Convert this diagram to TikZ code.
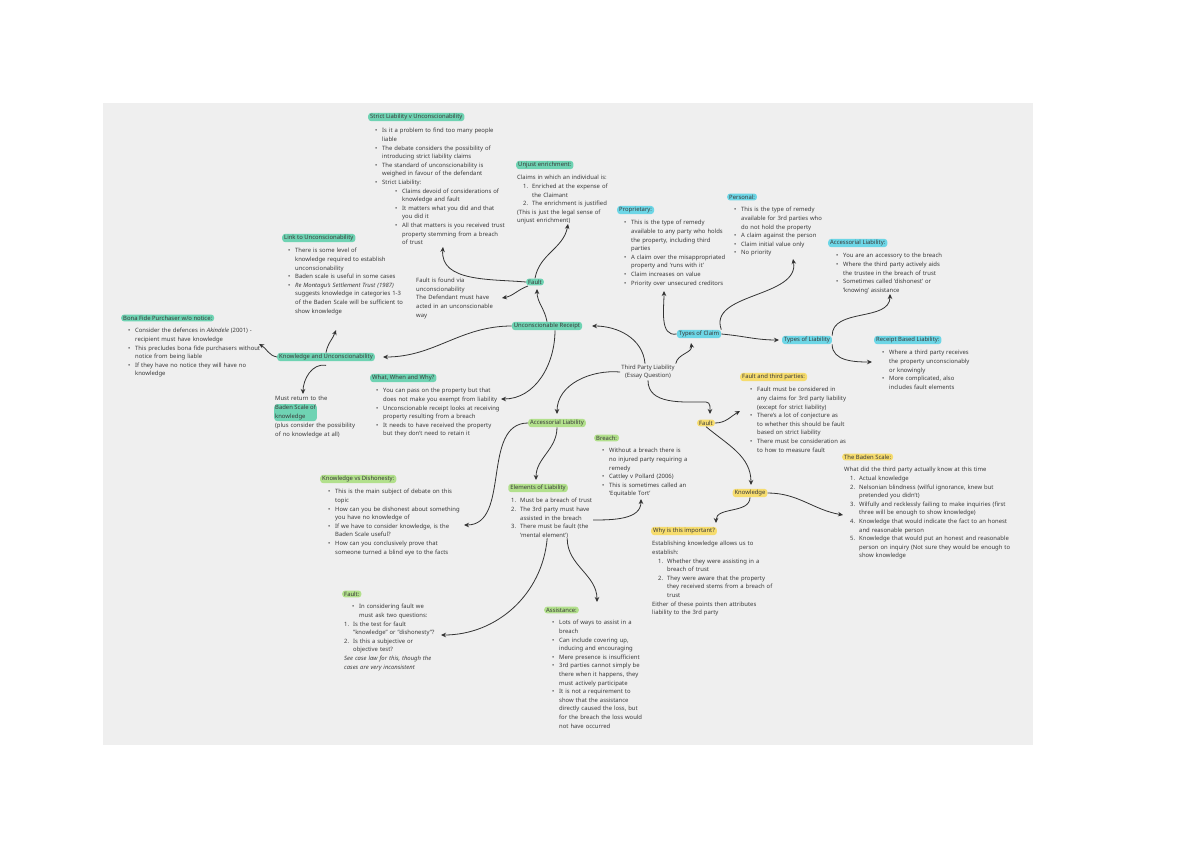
\documentclass[tikz,border=0pt]{standalone}
\usepackage{fontspec}
\setmainfont{Noto Sans}
\usetikzlibrary{arrows.meta}
\definecolor{bg}{HTML}{EFEFEF}
\definecolor{ink}{HTML}{3A3A3A}
\definecolor{cteal}{HTML}{6FD3B3}
\definecolor{ccyan}{HTML}{6DD6E6}
\definecolor{cgreen}{HTML}{B2E08C}
\definecolor{cyell}{HTML}{F6DC6E}
\newcommand\fs{\fontsize{5.9}{8.6}\selectfont\hyphenpenalty=10000\exhyphenpenalty=10000}
\newcommand\bu[2][0pt]{\par\leftskip=#1\relax\hangindent=7pt\hangafter=1\noindent\makebox[7pt][l]{\textbullet}#2\par}
\newcommand\nm[3][0pt]{\par\leftskip=#1\relax\hangindent=9pt\hangafter=1\noindent\makebox[9pt][l]{#2}#3\par}
\newcommand\pl[1]{\par\leftskip=0pt\noindent #1\par}
\tikzset{
  lab/.style={fill=#1,rounded corners=3pt,inner xsep=2pt,inner ysep=1.2pt,font=\fs,text=ink},
  txt/.style={anchor=north west,align=left,inner sep=0pt,font=\fs,text=ink,text width=#1},
  arr/.style={-{Stealth[length=5pt,width=4.5pt]},line width=0.8pt,draw=black!80},
}
\begin{document}
\begin{tikzpicture}[x=1pt,y=-1pt]
\useasboundingbox (0,0) rectangle (1200,849);
\fill[bg] (103,103) rectangle (1033,745);

% ---------- teal branch ----------
\node[lab=cteal,anchor=west] (slab) at (368,117) {Strict Liability v Unconscionability};
\node[txt=130pt] (sltx) at (375,124) {\bu{Is it a problem to find too many people liable}\bu{The debate considers the possibility of introducing strict liability claims}\bu{The standard of unconscionability is weighed in favour of the defendant}\bu{Strict Liability:}\bu[20pt]{Claims devoid of considerations of knowledge and fault}\bu[20pt]{It matters what you did and that you did it}\bu[20pt]{All that matters is you received trust property stemming from a breach of trust}};
\node[lab=cteal,anchor=west] (uelab) at (516,165) {Unjust enrichment:};
\node[txt=100pt] (uetx) at (517,171) {\pl{Claims in which an individual is:}\nm[6pt]{1.}{Enriched at the expense of the Claimant}\nm[6pt]{2.}{The enrichment is justified}\pl{(This is just the legal sense of unjust enrichment)}};
\node[lab=cteal,anchor=west] (lklab) at (282,238) {Link to Unconscionability};
\node[txt=115pt] (lktx) at (288,244) {\bu{There is some level of knowledge required to establish unconscionability}\bu{Baden scale is useful in some cases}\bu{\textit{Re Montagu's Settlement Trust (1987)} suggests knowledge in categories 1-3 of the Baden Scale will be sufficient to show knowledge}};
\node[lab=cteal,anchor=west] (bflab) at (121,318) {Bona Fide Purchaser w/o notice:};
\node[txt=135pt] (bftx) at (128,324) {\bu{Consider the defences in \textit{Akindele} (2001) - recipient must have knowledge}\bu{This precludes bona fide purchasers without notice from being liable}\bu{If they have no notice they will have no knowledge}};
\node[lab=cteal] (ku) at (326,357) {Knowledge and Unconscionability};
\node[txt=85pt] (mr1) at (275,396) {Must return to the};
\node[lab=cteal,anchor=north west,align=left,inner xsep=1pt] (mr2) at (274,404) {Baden Scale of\\knowledge};
\node[txt=80pt] (mr3) at (275,423) {(plus consider the possibility of no knowledge at all)};
\node[lab=cteal] (tfault) at (535,282) {Fault};
\node[txt=88pt] (fft) at (416,278) {Fault is found via unconscionability\\The Defendant must have acted in an unconscionable way};
\node[lab=cteal] (ur) at (547,326) {Unconscionable Receipt};
\node[lab=cteal,anchor=west] (wwlab) at (370,378) {What, When and Why?};
\node[txt=125pt] (wwtx) at (376,384) {\bu{You can pass on the property but that does not make you exempt from liability}\bu{Unconscionable receipt looks at receiving property resulting from a breach}\bu{It needs to have received the property but they don't need to retain it}};

% ---------- centre ----------
\node[align=center,font=\fs,text=ink,inner sep=1pt] (tpl) at (648,372) {Third Party Liability\\(Essay Question)};

% ---------- cyan branch ----------
\node[lab=ccyan] (toc) at (699,334) {Types of Claim};
\node[lab=ccyan,anchor=west] (prlab) at (617,210) {Proprietary:};
\node[txt=105pt] (prtx) at (624,216) {\bu{This is the type of remedy available to any party who holds the property, including third parties}\bu{A claim over the misappropriated property and 'runs with it'}\bu{Claim increases on value}\bu{Priority over unsecured creditors}};
\node[lab=ccyan,anchor=west] (pelab) at (727,197) {Personal:};
\node[txt=98pt] (petx) at (734,203) {\bu{This is the type of remedy available for 3rd parties who do not hold the property}\bu{A claim against the person}\bu{Claim initial value only}\bu{No priority}};
\node[lab=ccyan] (tol) at (807,340) {Types of Liability};
\node[lab=ccyan,anchor=west] (allab) at (828,243) {Accessorial Liability:};
\node[txt=112pt] (altx) at (836,249) {\bu{You are an accessory to the breach}\bu{Where the third party actively aids the trustee in the breach of trust}\bu{Sometimes called 'dishonest' or 'knowing' assistance}};
\node[lab=ccyan,anchor=west] (rblab) at (874,340) {Receipt Based Liability:};
\node[txt=95pt] (rbtx) at (882,346) {\bu{Where a third party receives the property unconscionably or knowingly}\bu{More complicated, also includes fault elements}};

% ---------- yellow branch ----------
\node[lab=cyell,anchor=west] (ftlab) at (740,377) {Fault and third parties:};
\node[txt=102pt] (fttx) at (750,383) {\bu{Fault must be considered in any claims for 3rd party liability (except for strict liability)}\bu{There's a lot of conjecture as to whether this should be fault based on strict liability}\bu{There must be consideration as to how to measure fault}};
\node[lab=cyell] (yfault) at (706,423) {Fault};
\node[lab=cyell] (know) at (750,493) {Knowledge};
\node[lab=cyell,anchor=west] (bslab) at (842,457) {The Baden Scale:};
\node[txt=172pt] (bstx) at (844,463) {\pl{What did the third party actually know at this time}\nm[6pt]{1.}{Actual knowledge}\nm[6pt]{2.}{Nelsonian blindness (wilful ignorance, knew but pretended you didn't)}\nm[6pt]{3.}{Wilfully and recklessly failing to make inquiries (first three will be enough to show knowledge)}\nm[6pt]{4.}{Knowledge that would indicate the fact to an honest and reasonable person}\nm[6pt]{5.}{Knowledge that would put an honest and reasonable person on inquiry (Not sure they would be enough to show knowledge}};
\node[lab=cyell,anchor=west] (wilab) at (651,531) {Why is this important?};
\node[txt=122pt] (witx) at (652,537) {\pl{Establishing knowledge allows us to establish:}\nm[6pt]{1.}{Whether they were assisting in a breach of trust}\nm[6pt]{2.}{They were aware that the property they received stems from a breach of trust}\pl{Either of these points then attributes liability to the 3rd party}};

% ---------- green branch ----------
\node[lab=cgreen] (acc) at (557,423) {Accessorial Liability};
\node[lab=cgreen,anchor=west] (brlab) at (594,438) {Breach:};
\node[txt=92pt] (brtx) at (602,444) {\bu{Without a breach there is no injured party requiring a remedy}\bu{Cattley v Pollard (2006)}\bu{This is sometimes called an 'Equitable Tort'}};
\node[lab=cgreen] (el) at (538,488) {Elements of Liability};
\node[txt=82pt] (eltx) at (511,494) {\nm{1.}{Must be a breach of trust}\nm{2.}{The 3rd party must have assisted in the breach}\nm{3.}{There must be fault (the 'mental element')}};
\node[lab=cgreen,anchor=west] (kdlab) at (320,479) {Knowledge vs Dishonesty:};
\node[txt=132pt] (kdtx) at (328,485) {\bu{This is the main subject of debate on this topic}\bu{How can you be dishonest about something you have no knowledge of}\bu{If we have to consider knowledge, is the Baden Scale useful?}\bu{How can you conclusively prove that someone turned a blind eye to the facts}};
\node[lab=cgreen,anchor=west] (fglab) at (342,594) {Fault:};
\node[txt=92pt] (fgtx) at (344,600) {\bu[8pt]{In considering fault we must ask two questions:}\nm{1.}{Is the test for fault "knowledge" or "dishonesty"?}\nm{2.}{Is this a subjective or objective test?}\pl{\textit{See case law for this, though the cases are very inconsistent}}};
\node[lab=cgreen,anchor=west] (aslab) at (544,610) {Assistance:};
\node[txt=92pt] (astx) at (552,616) {\bu{Lots of ways to assist in a breach}\bu{Can include covering up, inducing and encouraging}\bu{Mere presence is insufficient}\bu{3rd parties cannot simply be there when it happens, they must actively participate}\bu{It is not a requirement to show that the assistance directly caused the loss, but for the breach the loss would not have occurred}};

% ---------- arrow targets ----------
\coordinate (a1) at (592,326); \coordinate (a2) at (557,414);
\coordinate (a3) at (691,343); \coordinate (a4) at (710,414);
\coordinate (a5) at (537,289); \coordinate (a6) at (383,357);
\coordinate (a7) at (501,399); \coordinate (a8) at (443,247);
\coordinate (a9) at (568,224); \coordinate (a10) at (502,298);
\coordinate (a11) at (336,330); \coordinate (a12) at (259,344);
\coordinate (a13) at (303,394); \coordinate (a14) at (664,291);
\coordinate (a15) at (793,259); \coordinate (a16) at (779,340);
\coordinate (a17) at (890,294); \coordinate (a18) at (872,362);
\coordinate (a19) at (740,411); \coordinate (a20) at (751,485);
\coordinate (a21) at (716,523); \coordinate (a22) at (843,515);
\coordinate (a23) at (464,525); \coordinate (a24) at (536,480);
\coordinate (a25) at (641,499); \coordinate (a26) at (441,635);
\coordinate (a27) at (597,602);
\coordinate (t5) at (593,520);

% ---------- arrows ----------
\draw[arr] (tpl.north) ++(-3,0) coordinate (t1) (t1) to[out=95,in=0] (a1);
\draw[arr] (tpl.west) to[out=175,in=90] (a2);
\draw[arr] (tpl.north east) to[out=80,in=-80] (a3);
\draw[arr] (tpl.south) to[out=-90,in=180] (706,402) to[out=0,in=90] (a4);
\draw[arr] (ur.north) to[out=100,in=-90] (a5);
\draw[arr] (ur.west) to[out=180,in=0] (a6);
\draw[arr] (ur.south) ++(8,0) coordinate (t2) (t2) to[out=-90,in=0] (a7);
\draw[arr] (tfault.west) to[out=175,in=-95] (a8);
\draw[arr] (tfault.north) to[out=80,in=-100] (a9);
\draw[arr] (tfault.west) ++(2,4) coordinate (t3) (t3) to[out=200,in=10] (a10);
\draw[arr] (ku.north) to[out=80,in=-110] (a11);
\draw[arr] (ku.west) to[out=170,in=-30] (a12);
\draw[arr] (ku.south) ++(0,4) coordinate (t4) (t4) to[out=170,in=90] (a13);
\draw[arr] (toc.west) to[out=190,in=-90] (a14);
\draw[arr] (toc.north east) to[out=110,in=-80] (a15);
\draw[arr] (toc.east) to[out=-5,in=180] (a16);
\draw[arr] (tol.north east) to[out=90,in=-90] (a17);
\draw[arr] (tol.south east) to[out=-90,in=180] (a18);
\draw[arr] (yfault.east) to[out=0,in=210] (a19);
\draw[arr] (yfault.south) to[out=-40,in=90] (a20);
\draw[arr] (know.south) to[out=-90,in=90] (a21);
\draw[arr] (know.east) to[out=0,in=170] (a22);
\draw[arr] (acc.west) to[out=180,in=0] (a23);
\draw[arr] (acc.south) to[out=-90,in=90] (a24);
\draw[arr] (t5) to[out=0,in=-90] (a25);
\draw[arr] (eltx.south) ++(-5,0) coordinate (t6) (t6) to[out=-95,in=0] (a26);
\draw[arr] (eltx.south) ++(15,0) coordinate (t7) (t7) to[out=-90,in=90] (a27);
\end{tikzpicture}
\end{document}
